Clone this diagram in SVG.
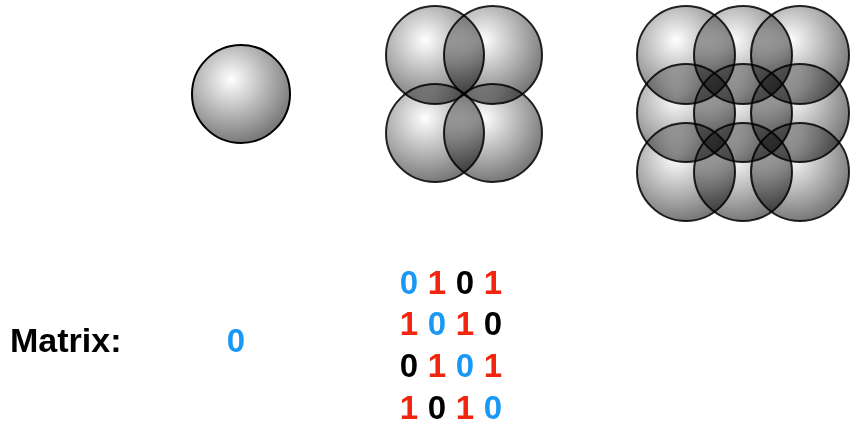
<svg xmlns="http://www.w3.org/2000/svg" width="861" height="434" viewBox="0 0 861 434">
<defs>
<radialGradient id="g1" cx="0.4" cy="0.35" r="0.65">
<stop offset="0" stop-color="#ffffff"/>
<stop offset="1" stop-color="#7a7a7a"/>
</radialGradient>
<style>
.s circle{fill:url(#g1);mix-blend-mode:multiply;stroke:none}
.s{isolation:isolate}
.o{fill:none;stroke:#000;stroke-width:2;stroke-opacity:0.85}
.one{fill:url(#g1);stroke:#000;stroke-width:2}
text{font-family:"Liberation Sans",Arial,sans-serif;font-weight:bold;font-size:33px;text-anchor:middle}
.b{fill:#1a98f5}.r{fill:#f2260f}.k{fill:#000}
</style>
</defs>
<g id="sphere1"><circle class="one" cx="241" cy="94" r="49"/></g>
<g id="spheres2x2">
<g class="s">
<circle cx="435" cy="55" r="49"/><circle cx="493" cy="55" r="49"/>
<circle cx="435" cy="133" r="49"/><circle cx="493" cy="133" r="49"/>
</g>
<g class="o">
<circle cx="435" cy="55" r="49"/><circle cx="493" cy="55" r="49"/>
<circle cx="435" cy="133" r="49"/><circle cx="493" cy="133" r="49"/>
</g>
</g>
<g id="spheres3x3">
<g class="s">
<circle cx="686" cy="55" r="49"/><circle cx="743" cy="55" r="49"/><circle cx="800" cy="55" r="49"/>
<circle cx="686" cy="113" r="49"/><circle cx="743" cy="113" r="49"/><circle cx="800" cy="113" r="49"/>
<circle cx="686" cy="172" r="49"/><circle cx="743" cy="172" r="49"/><circle cx="800" cy="172" r="49"/>
</g>
<g class="o">
<circle cx="686" cy="55" r="49"/><circle cx="743" cy="55" r="49"/><circle cx="800" cy="55" r="49"/>
<circle cx="686" cy="113" r="49"/><circle cx="743" cy="113" r="49"/><circle cx="800" cy="113" r="49"/>
<circle cx="686" cy="172" r="49"/><circle cx="743" cy="172" r="49"/><circle cx="800" cy="172" r="49"/>
</g>
</g>
<g id="labels">
<text x="10" y="352" class="k" style="text-anchor:start;font-size:34px">Matrix:</text>
<text x="236" y="352" class="b">0</text>
</g>
<g id="matrix">
<text x="409" y="294" class="b">0</text><text x="437" y="294" class="r">1</text><text x="465" y="294" class="k">0</text><text x="493" y="294" class="r">1</text>
<text x="409" y="335" class="r">1</text><text x="437" y="335" class="b">0</text><text x="465" y="335" class="r">1</text><text x="493" y="335" class="k">0</text>
<text x="409" y="377" class="k">0</text><text x="437" y="377" class="r">1</text><text x="465" y="377" class="b">0</text><text x="493" y="377" class="r">1</text>
<text x="409" y="419" class="r">1</text><text x="437" y="419" class="k">0</text><text x="465" y="419" class="r">1</text><text x="493" y="419" class="b">0</text>
</g>
</svg>
